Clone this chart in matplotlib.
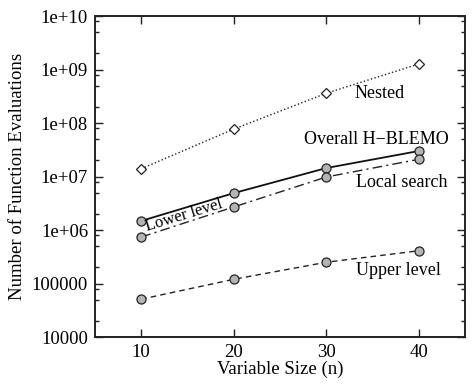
import matplotlib
matplotlib.use("Agg")
import matplotlib.pyplot as plt
from matplotlib.ticker import FuncFormatter, FixedLocator, NullFormatter

plt.rcParams['font.family'] = ['Liberation Serif', 'DejaVu Serif']

n = [10, 20, 30, 40]
nested = [1.4e7, 7.7e7, 3.6e8, 1.27e9]
overall = [1.48e6, 4.9e6, 1.44e7, 3.0e7]
local_search = [7.4e5, 2.7e6, 9.8e6, 2.1e7]
upper = [5.1e4, 1.2e5, 2.5e5, 4.1e5]
decades = [1e4, 1e5, 1e6, 1e7, 1e8, 1e9, 1e10]

fig = plt.figure(figsize=(4.74, 3.91), dpi=100)
ax = fig.add_axes([0.2004, 0.138, 0.7806, 0.821])

grey = '#b4b4b4'
ax.plot(n, nested, linestyle=':', color='#222222', lw=1.0, marker='D', markersize=5.5,
        markerfacecolor='white', markeredgecolor='#222222', markeredgewidth=0.9)
ax.plot(n, overall, linestyle='-', color='#111111', lw=1.3, marker='o', markersize=6.5,
        markerfacecolor=grey, markeredgecolor='#222222', markeredgewidth=0.9)
ax.plot(n, local_search, linestyle=(0, (7, 3, 1.5, 3)), color='#222222', lw=1.0, marker='o',
        markersize=6.5, markerfacecolor=grey, markeredgecolor='#222222', markeredgewidth=0.9)
ax.plot(n, upper, linestyle=(0, (4, 3)), color='#222222', lw=1.0, marker='o', markersize=6.5,
        markerfacecolor=grey, markeredgecolor='#222222', markeredgewidth=0.9)

ax.set_yscale('log')
ax.set_xlim(5, 45)
ax.set_ylim(decades[0], decades[-1])
ax.set_xticks(n)
ax.yaxis.set_major_locator(FixedLocator(decades))
minors = [d * s for d in decades[:-1] for s in (2, 5, 8)]
ax.yaxis.set_minor_locator(FixedLocator(minors))
ax.yaxis.set_minor_formatter(NullFormatter())
ax.yaxis.set_major_formatter(FuncFormatter(lambda v, p: '%g' % v))

ax.tick_params(which='both', direction='in', top=True, right=True, labelsize=13.5,
               color='#222222', width=1.0)
ax.tick_params(which='major', length=6, pad=5)
ax.tick_params(which='minor', length=3, labelleft=False)
for s in ax.spines.values():
    s.set_linewidth(1.4)
    s.set_color('#222222')

ax.set_xlabel('Variable Size (n)', fontsize=13.5, labelpad=0)
ax.set_ylabel('Number of Function Evaluations', fontsize=13.5, labelpad=4)

fs = 13
ax.text(35.8, 3.6e8, 'Nested', fontsize=fs, ha='center', va='center')
ax.text(35.4, 5.0e7, 'Overall H\u2212BLEMO', fontsize=fs, ha='center', va='center')
ax.text(38.2, 7.6e6, 'Local search', fontsize=fs, ha='center', va='center')
ax.text(37.8, 1.78e5, 'Upper level', fontsize=fs, ha='center', va='center')
ax.text(14.6, 1.9e6, 'Lower level', fontsize=12, ha='center', va='center', rotation=17)

fig.savefig('out.png', dpi=100)
